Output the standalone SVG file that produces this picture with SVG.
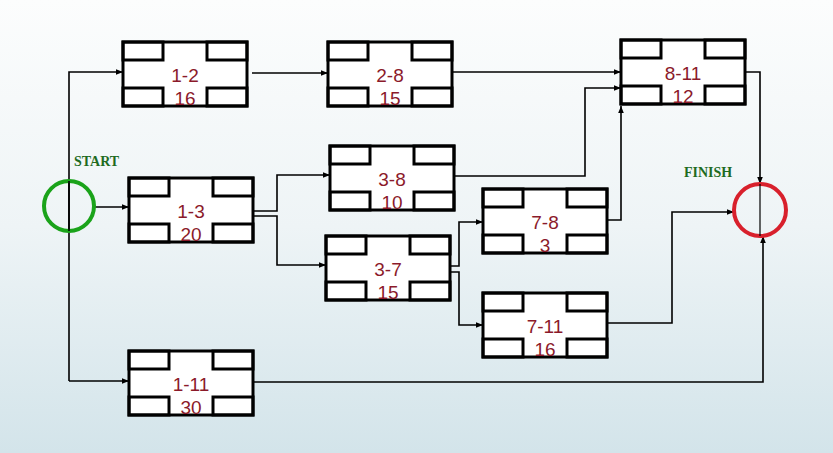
<svg xmlns="http://www.w3.org/2000/svg" width="833" height="453" viewBox="0 0 833 453">
<defs>
<linearGradient id="bg" x1="0" y1="0" x2="0" y2="1"><stop offset="0" stop-color="#fcfdfd"/><stop offset="0.5" stop-color="#eef4f6"/><stop offset="1" stop-color="#d3e4ea"/></linearGradient>
<marker id="ar" viewBox="0 0 10 10" refX="10" refY="5" markerWidth="7" markerHeight="7" orient="auto" markerUnits="userSpaceOnUse"><path d="M0,1 L10,5 L0,9 z" fill="#000"/></marker>
<g id="nb">
<rect x="0" y="0" width="124" height="64" fill="#fff" stroke="#000" stroke-width="3"/>
<rect x="0" y="0" width="40" height="18" fill="none" stroke="#000" stroke-width="3"/>
<rect x="84" y="0" width="40" height="18" fill="none" stroke="#000" stroke-width="3"/>
<rect x="0" y="46" width="40" height="18" fill="none" stroke="#000" stroke-width="3"/>
<rect x="84" y="46" width="40" height="18" fill="none" stroke="#000" stroke-width="3"/>
</g>
</defs>
<style>
.t{font-family:"Liberation Sans",Arial,sans-serif;font-size:19px;fill:#8b1a2a;text-anchor:middle}
.l{font-family:"Liberation Serif","Times New Roman",serif;font-size:14px;font-weight:bold;fill:#1f6b1f}
.c{fill:none;stroke:#000;stroke-width:1.6}
</style>
<rect width="833" height="453" fill="url(#bg)"/>
<g id="connectors">
<path class="c" d="M69,381 V72 H123" marker-end="url(#ar)"/>
<path class="c" d="M69,381 H129" marker-end="url(#ar)"/>
<path class="c" d="M95,207 H129" marker-end="url(#ar)"/>
<path class="c" d="M252,73 H328" marker-end="url(#ar)"/>
<path class="c" d="M451,72 H621" marker-end="url(#ar)"/>
<path class="c" d="M453,176 H585 V88 H621" marker-end="url(#ar)"/>
<path class="c" d="M606,220 H621 V106" marker-end="url(#ar)"/>
<path class="c" d="M745,72 H760 V184" marker-end="url(#ar)"/>
<path class="c" d="M253,211 H277 V175 H330" marker-end="url(#ar)"/>
<path class="c" d="M253,216 H277 V265 H326" marker-end="url(#ar)"/>
<path class="c" d="M450,266 H459 V222 H483" marker-end="url(#ar)"/>
<path class="c" d="M450,272 H459 V325 H483" marker-end="url(#ar)"/>
<path class="c" d="M606,323 H672 V212 H734" marker-end="url(#ar)"/>
<path class="c" d="M252,382 H763 V236" marker-end="url(#ar)"/>
</g>
<g id="start"><circle cx="69" cy="206" r="25" fill="none" stroke="#1aa31a" stroke-width="4"/><line x1="69" y1="181" x2="69" y2="231" stroke="#000" stroke-width="1.6"/><text class="l" x="74" y="166">START</text></g>
<g id="finish"><circle cx="760" cy="210" r="26" fill="none" stroke="#d8202c" stroke-width="4"/><line x1="760" y1="184" x2="760" y2="236" stroke="#000" stroke-width="1.2"/><text class="l" x="684" y="177">FINISH</text></g>
<g id="n12"><use href="#nb" x="123" y="42"/><text class="t" x="185" y="82">1-2</text><text class="t" x="185" y="105">16</text></g>
<g id="n28"><use href="#nb" x="328" y="42"/><text class="t" x="390" y="82">2-8</text><text class="t" x="390" y="105">15</text></g>
<g id="n811"><use href="#nb" x="621" y="40"/><text class="t" x="683" y="80">8-11</text><text class="t" x="683" y="103">12</text></g>
<g id="n13"><use href="#nb" x="129" y="178"/><text class="t" x="191" y="218">1-3</text><text class="t" x="191" y="241">20</text></g>
<g id="n38"><use href="#nb" x="330" y="146"/><text class="t" x="392" y="186">3-8</text><text class="t" x="392" y="209">10</text></g>
<g id="n37"><use href="#nb" x="326" y="236"/><text class="t" x="388" y="276">3-7</text><text class="t" x="388" y="299">15</text></g>
<g id="n78"><use href="#nb" x="483" y="189"/><text class="t" x="545" y="229">7-8</text><text class="t" x="545" y="252">3</text></g>
<g id="n711"><use href="#nb" x="483" y="293"/><text class="t" x="545" y="333">7-11</text><text class="t" x="545" y="356">16</text></g>
<g id="n111"><use href="#nb" x="129" y="351"/><text class="t" x="191" y="391">1-11</text><text class="t" x="191" y="414">30</text></g>
</svg>
